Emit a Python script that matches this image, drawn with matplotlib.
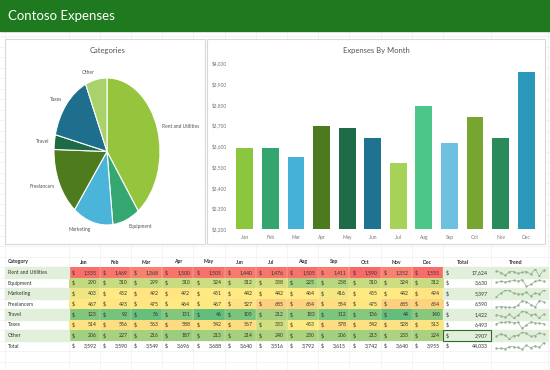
import matplotlib
matplotlib.use('Agg')
import matplotlib.pyplot as plt
import numpy as np
from matplotlib.colors import LinearSegmentedColormap, TwoSlopeNorm
from matplotlib.patches import Rectangle
from matplotlib.ticker import FuncFormatter

plt.rcParams['font.family'] = ['Lato', 'DejaVu Sans']

months = ['Jan', 'Feb', 'Mar', 'Apr', 'May', 'Jun', 'Jul', 'Aug', 'Sep', 'Oct', 'Nov', 'Dec']
categories = ['Rent and Utilities', 'Equipment', 'Marketing', 'Freelancers', 'Travel', 'Taxes', 'Other']

rent = [1535, 1469, 1368, 1500, 1505, 1440, 1476, 1505, 1411, 1590, 1352, 1555]
equipment = [290, 310, 299, 310, 324, 312, 338, 225, 258, 310, 324, 312]
marketing = [403, 452, 492, 492, 451, 442, 442, 464, 416, 455, 442, 494]
freelancers = [467, 493, 475, 464, 467, 527, 685, 654, 554, 475, 685, 654]
travel = [123, 92, 56, 131, 46, 105, 212, 183, 112, 136, 44, 140]
taxes = [514, 556, 563, 588, 542, 567, 333, 453, 578, 542, 528, 513]
other = [206, 227, 216, 187, 213, 214, 240, 230, 206, 213, 233, 224]

month_totals = [3592, 3590, 3549, 3696, 3688, 3640, 3516, 3792, 3615, 3742, 3640, 3955]
category_totals = [17624, 3630, 5397, 6590, 1422, 6493, 2907]
grand_total = 44033

pie_colors = ['#95c43d', '#35a872', '#4ab4d9', '#4f7b1f', '#1c6a46', '#1e6e8e', '#a9d26b']
bar_colors = ['#8cc63f', '#34a56f', '#45b0d8', '#4e7a1f', '#1d6b47', '#1f7390',
              '#a6d25a', '#4dc68a', '#6ec0e0', '#76a530', '#2b8a5a', '#2a98b8']

W, H = 550, 370
fig = plt.figure(figsize=(5.5, 3.7), dpi=100)


def rect(x0, y0, x1, y1):
    # pixel box (top-left origin) -> figure fraction
    return [x0 / W, 1 - y1 / H, (x1 - x0) / W, (y1 - y0) / H]


# background sheet
bg = fig.add_axes([0, 0, 1, 1])
bg.axis('off')
row_h = 10.5
for k in range(-25, 12):
    bg.axhline(256.75 + k * row_h, color='#ececec', lw=0.4, zorder=0)
col0, col_w = 68.5, 31.2
col_edges = [5, col0] + [col0 + col_w * (i + 1) for i in range(12)] + [491, 548]
for x in col_edges:
    bg.axvline(x, color='#ececec', lw=0.4, zorder=0)

# title bar
bg.add_patch(Rectangle((0, 0), W, 31, color='#1f7a1f', zorder=2))
bg.text(8, 16, 'Contoso Expenses', color='white', fontsize=9.5, va='center', zorder=3)

# chart panels
bg.add_patch(Rectangle((5, 39), 200, 205, fc='white', ec='#d9d9d9', lw=0.8, zorder=2))
bg.add_patch(Rectangle((207, 39), 338, 205, fc='white', ec='#d9d9d9', lw=0.8, zorder=2))
bg.text(107, 51, 'Categories', ha='center', va='center', fontsize=5.5, color='#555555', zorder=3)
bg.text(376, 51, 'Expenses By Month', ha='center', va='center', fontsize=5.5, color='#555555', zorder=3)

# table
data = np.array([rent, equipment, marketing, freelancers, travel, taxes, other])
cmap = LinearSegmentedColormap.from_list('excel3', ['#63be7b', '#ffeb84', '#f8696b'])
norm = TwoSlopeNorm(vmin=data.min(), vcenter=np.median(data), vmax=data.max())
top = 267.25
months_right = col0 + col_w * 12
bg.imshow(data, cmap=cmap, norm=norm, aspect='auto', interpolation='nearest',
          extent=(col0, months_right, top + row_h * 7, top), zorder=1)

for i in range(7):
    if i % 2 == 0:
        y0 = top + i * row_h
        bg.add_patch(Rectangle((5, y0), col0 - 5, row_h, color='#e2efda', zorder=1))
        bg.add_patch(Rectangle((months_right, y0), 548 - months_right, row_h, color='#e2efda', zorder=1))
for j in range(1, 12):
    bg.axvline(col0 + col_w * j, ymin=1 - (top + 7 * row_h) / H, ymax=1 - top / H,
               color='white', lw=0.3, alpha=0.6, zorder=1.5)

fs = 3.7
tc = '#333333'
hy = top - row_h / 2
bg.text(8, hy, 'Category', fontsize=fs, weight='bold', va='center', color=tc)
for j, m in enumerate(months):
    bg.text(col0 + col_w * (j + 0.5), hy, m, fontsize=fs, weight='bold', ha='center', va='center', color=tc)
bg.text(463, hy, 'Total', fontsize=fs, weight='bold', ha='center', va='center', color=tc)
bg.text(516, hy, 'Trend', fontsize=fs, weight='bold', ha='center', va='center', color=tc)

rows_vals = list(data) + [np.array(month_totals)]
row_names = categories + ['Total']
row_totals = category_totals + [grand_total]
for i, (name, vals, tot) in enumerate(zip(row_names, rows_vals, row_totals)):
    yc = top + row_h * (i + 0.5)
    bg.text(8, yc, name, fontsize=fs, va='center', color=tc)
    for j, v in enumerate(vals):
        x0 = col0 + col_w * j
        bg.text(x0 + 3, yc, '$', fontsize=fs, va='center', color=tc)
        bg.text(x0 + col_w - 3, yc, f'{v:,}', fontsize=fs, ha='right', va='center', color=tc)
    bg.text(months_right + 3, yc, '$', fontsize=fs, va='center', color=tc)
    bg.text(488, yc, f'{tot:,}', fontsize=fs, ha='right', va='center', color=tc)

    sp = fig.add_axes(rect(494, top + row_h * i + 1.5, 546, top + row_h * (i + 1) - 1.5))
    sp.plot(range(12), vals, color='#8fae8f', lw=0.5, marker='o', ms=0.7)
    sp.axis('off')
    sp.patch.set_visible(False)

sel_y = top + row_h * 6
bg.add_patch(Rectangle((months_right, sel_y), 491 - months_right, row_h, fill=False,
                       ec='#2e6b2e', lw=0.8, zorder=4))

bg.set_xlim(0, W)
bg.set_ylim(H, 0)

# pie
pa = fig.add_axes(rect(54, 78, 160, 225))
pa.pie(category_totals, labels=categories, colors=pie_colors, startangle=90,
       counterclock=False, labeldistance=1.1,
       wedgeprops=dict(edgecolor='white', linewidth=0.8),
       textprops=dict(fontsize=3.5, color='#555555'))
pa.set_aspect('auto')
pa.set_xlim(-1, 1)
pa.set_ylim(-1, 1)

# bars
ba = fig.add_axes(rect(232, 63, 539, 229))
ba.bar(range(12), month_totals, width=0.66, color=bar_colors)
ba.set_xlim(-0.5, 11.5)
ba.set_ylim(3200, 4000)
ba.set_yticks(range(3200, 4001, 100))
ba.yaxis.set_major_formatter(FuncFormatter(lambda v, p: f'${v:,.0f}'))
ba.set_xticks(range(12))
ba.set_xticklabels(months)
ba.tick_params(length=0, labelsize=3.5, labelcolor='#777777', pad=4)
for s in ba.spines.values():
    s.set_visible(False)
ba.patch.set_visible(False)

fig.savefig('out.png', dpi=100)
